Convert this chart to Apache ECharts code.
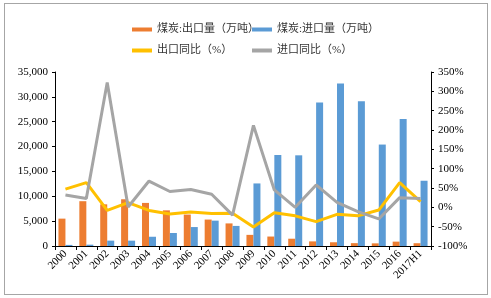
<!DOCTYPE html>
<html>
<head>
<meta charset="utf-8">
<script src="https://cdn.jsdelivr.net/npm/echarts@6/dist/echarts.min.js"></script>
<style>
  html, body { margin: 0; padding: 0; background: #fff; }
  #frame { position: absolute; left: 4px; top: 3px; width: 482px; height: 290px; border: 1px solid #a6a6a6; }
  #chart { position: absolute; left: 0; top: 0; width: 491px; height: 298px; }
</style>
</head>
<body>
<div id="frame"></div>
<div id="chart"></div>
<script>
var years = ['2000', '2001', '2002', '2003', '2004', '2005', '2006', '2007', '2008',
  '2009', '2010', '2011', '2012', '2013', '2014', '2015', '2016', '2017H1'];
// 万吨
var exportVol = [5505, 9012, 8384, 9403, 8666, 7172, 6327, 5319, 4543,
  2240, 1903, 1466, 928, 751, 574, 533, 878, 560];
var importVol = [218, 266, 1081, 1076, 1861, 2617, 3811, 5102, 4040,
  12584, 18307, 18240, 28841, 32702, 29122, 20406, 25543, 13126];
// %
var exportYoy = [47, 64, -8, 12, -8, -17, -12, -16, -15,
  -51, -14, -22, -37, -18, -22, -7, 64, 15];
var importYoy = [32, 23, 323, 1, 68, 41, 46, 34, -20,
  212, 45, 0, 58, 13, -11, -30, 25, 23];

var serif = "'Liberation Serif', 'Noto Sans CJK SC', serif";
var chart = echarts.init(document.getElementById('chart'));

var legendText = { fontFamily: serif, fontSize: 11, color: '#333' };

chart.setOption({
  animation: false,
  color: ['#ED7D31', '#5B9BD5', '#FFC000', '#A5A5A5'],
  legend: [
    {
      left: 127, top: 19, orient: 'vertical', itemGap: 10,
      itemWidth: 20, itemHeight: 4, itemStyle: { borderWidth: 0 }, textStyle: legendText,
      data: [
        { name: '煤炭:出口量（万吨）', icon: 'rect' },
        { name: '出口同比（%）', icon: 'rect' }
      ]
    },
    {
      left: 247, top: 19, orient: 'vertical', itemGap: 10,
      itemWidth: 20, itemHeight: 4, itemStyle: { borderWidth: 0 }, textStyle: legendText,
      data: [
        { name: '煤炭:进口量（万吨）', icon: 'rect' },
        { name: '进口同比（%）', icon: 'rect' }
      ]
    }
  ],
  grid: { left: 55, right: 60, top: 72, bottom: 52 },
  xAxis: {
    type: 'category',
    data: years,
    axisLine: { lineStyle: { color: '#000', width: 1 } },
    axisTick: { show: true, length: 4, lineStyle: { color: '#000' } },
    axisLabel: { rotate: 45, interval: 0, margin: 6, fontFamily: serif, fontSize: 11, color: '#000' }
  },
  yAxis: [
    {
      type: 'value', min: 0, max: 35000, interval: 5000,
      axisLine: { show: true, lineStyle: { color: '#000' } },
      axisTick: { show: true, length: 3, lineStyle: { color: '#000' } },
      splitLine: { show: false },
      axisLabel: {
        fontFamily: serif, fontSize: 11, color: '#000', margin: 7,
        formatter: function (v) { return v.toLocaleString('en-US'); }
      }
    },
    {
      type: 'value', min: -100, max: 350, interval: 50,
      axisLine: { show: true, lineStyle: { color: '#000' } },
      axisTick: { show: true, length: 3, lineStyle: { color: '#000' } },
      splitLine: { show: false },
      axisLabel: { fontFamily: serif, fontSize: 11, color: '#000', margin: 7, formatter: '{value}%' }
    }
  ],
  series: [
    {
      name: '煤炭:出口量（万吨）', type: 'bar', data: exportVol,
      barWidth: 7, barGap: '0%'
    },
    {
      name: '煤炭:进口量（万吨）', type: 'bar', data: importVol,
      barWidth: 7, barGap: '0%'
    },
    {
      name: '出口同比（%）', type: 'line', yAxisIndex: 1, data: exportYoy,
      symbol: 'none', lineStyle: { width: 3 }
    },
    {
      name: '进口同比（%）', type: 'line', yAxisIndex: 1, data: importYoy,
      symbol: 'none', lineStyle: { width: 3 }
    }
  ]
});
</script>
</body>
</html>
